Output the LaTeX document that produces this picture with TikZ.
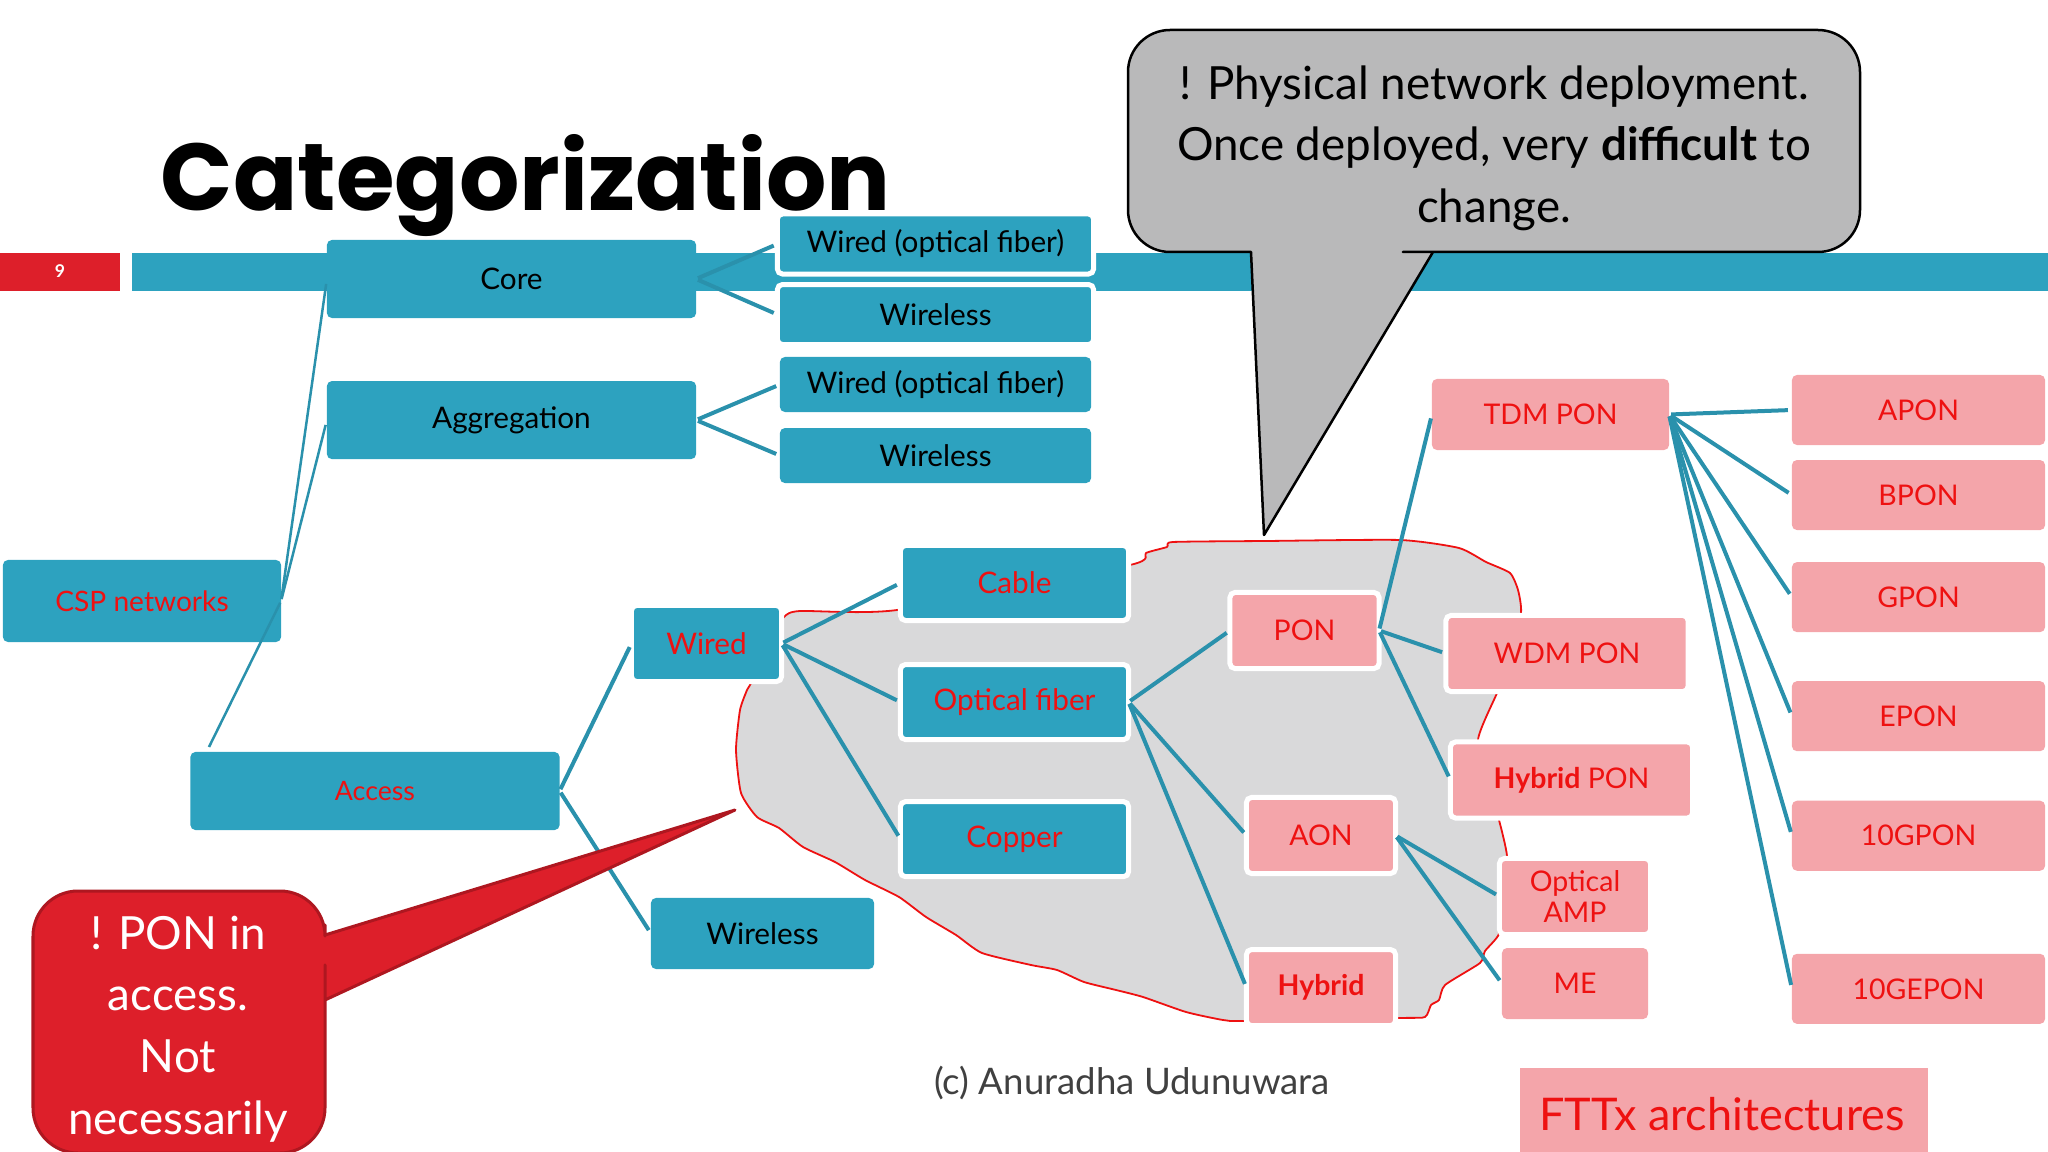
\documentclass[tikz,border=0pt]{standalone}
\usepackage{fontspec}
\setmainfont{Lato}
\newfontfamily\titlefont{Poppins}
\usetikzlibrary{positioning}

\definecolor{tealfill}{HTML}{2DA2BF}
\definecolor{tealline}{HTML}{2A91AC}
\definecolor{pinkfill}{HTML}{F4A5AA}
\definecolor{redtext}{HTML}{EE1111}
\definecolor{redfill}{HTML}{DD1F2A}
\definecolor{reddark}{HTML}{AE1720}
\definecolor{blobfill}{HTML}{D9D9DA}
\definecolor{notefill}{HTML}{B9B9BA}

\tikzset{
	box/.style={rounded corners=0.05cm, outer sep=0pt, inner sep=0pt, align=center},
	bluebox/.style={box, fill=tealfill, text=black, font=\fontsize{8.45}{8.8}\selectfont},
	redblue/.style={bluebox, text=redtext},
	pinkbox/.style={box, fill=pinkfill, text=redtext, font=\fontsize{8.1}{8.8}\selectfont},
	rim/.style={draw=white, line width=0.05cm},
	link/.style={draw=tealline, line width=0.04cm, shorten <=0.02cm, shorten >=0.04cm},
	thinlink/.style={link, line width=0.025cm, shorten >=0.05cm},
	notetext/.style={align=center, inner sep=0pt, font=\fontsize{13}{17.5}\selectfont},
	mainbox/.style={minimum width=3.69cm, minimum height=0.78cm},
	fiberbox/.style={minimum width=3.11cm, minimum height=0.55cm},
	fiberrim/.style={rim, minimum width=3.16cm, minimum height=0.60cm},
	mediumbox/.style={rim, minimum width=2.28cm, minimum height=0.75cm},
	nodebox/.style={rim, minimum width=1.49cm, minimum height=0.76cm},
	ponbox/.style={minimum width=2.37cm, minimum height=0.71cm},
	ponrim/.style={rim, minimum width=2.42cm, minimum height=0.76cm},
	ampbox/.style={minimum width=1.46cm, minimum height=0.71cm},
	amprim/.style={rim, minimum width=1.51cm, minimum height=0.76cm},
	fttxbox/.style={minimum width=2.53cm, minimum height=0.70cm},
}

\begin{document}
\begin{tikzpicture}[x=0.01cm, y=-0.01cm]
	\useasboundingbox (0,0) rectangle (2048,1152);

	% slide furniture
	\fill[redfill] (0,253) rectangle (120,291);
	\fill[tealfill] (132,253) rectangle (2048,291);
	\node[text=white, font=\fontsize{5}{5}\selectfont\bfseries] (pagenum) at (60,271) {9};

	% the red outline round the access part
	\draw[redtext, fill=blobfill, line width=0.018cm, line join=round] plot[smooth cycle, tension=0.35] coordinates {
		(784,617) (800,611) (897,610) (1130,565) (1146,553) (1167,547) (1173,542) (1266,541)
		(1400,540) (1459,548) (1486,562) (1510,573) (1518,590) (1521,613) (1510,660) (1497,693)
		(1478,740) (1490,790) (1499,820) (1507,856) (1505,900) (1499,934) (1485,951) (1480,963)
		(1445,985) (1439,1000) (1431,1005) (1425,1017) (1400,1018) (1245,1021) (1223,1020) (1186,1012)
		(1143,997) (1116,990) (1084,982) (1057,970) (1031,965) (982,953) (956,935) (926,917)
		(899,897) (865,880) (835,862) (803,847) (779,828) (757,817) (741,793) (736,750)
		(740,710) (747,690) (751,683) (770,640)};

	\node[redblue, mainbox, minimum width=2.78cm, minimum height=0.82cm, font=\fontsize{8}{8.8}\selectfont] (csp) at (142,601) {CSP networks};

	\node[bluebox, mainbox] (core) at (511.5,279) {Core};
	\node[bluebox, mainbox, below=0.63cm of core] (aggregation) {Aggregation};
	\node[redblue, mainbox, font=\fontsize{7.6}{8.8}\selectfont] (access) at (375,791) {Access};

	\node[bluebox, fiberrim] (corewired) at (935.5,244) {Wired (optical fiber)};
	\node[bluebox, fiberrim, below=0.105cm of corewired] (corewireless) {Wireless};
	\node[bluebox, fiberbox] (aggwired) at (935.5,384.5) {Wired (optical fiber)};
	\node[bluebox, fiberbox, below=0.16cm of aggwired] (aggwireless) {Wireless};

	\node[redblue, rim, minimum width=1.50cm, minimum height=0.76cm] (wired) at (706.5,643.5) {Wired};
	\node[bluebox, minimum width=2.23cm, minimum height=0.71cm] (accwireless) at (762.5,933.5) {Wireless};

	\node[redblue, mediumbox] (cable) at (1014.5,583) {Cable};
	\node[redblue, mediumbox, below=0.44cm of cable] (optical) {Optical fiber};
	\node[redblue, mediumbox, below=0.62cm of optical] (copper) {Copper};

	\node[pinkbox, nodebox] (pon) at (1304.5,630.5) {PON};
	\node[pinkbox, nodebox] (aon) at (1321,835.5) {AON};
	\node[pinkbox, nodebox, below=0.76cm of aon] (hybrid) {\textbf{Hybrid}};

	\node[pinkbox, ponbox] (tdm) at (1550.5,414.5) {TDM PON};
	\node[pinkbox, ponrim] (wdm) at (1567,653.5) {WDM PON};
	\node[pinkbox, ponrim] (hybridpon) at (1571.5,780) {\textbf{Hybrid} PON};
	\node[pinkbox, amprim] (amp) at (1575,896.5) {Optical\\AMP};
	\node[pinkbox, ampbox, below=0.135cm of amp] (me) {ME};

	\node[pinkbox, fttxbox] (apon) at (1918.5,410) {APON};
	\node[pinkbox, fttxbox, below=0.15cm of apon] (bpon) {BPON};
	\node[pinkbox, fttxbox, below=0.32cm of bpon] (gpon) {GPON};
	\node[pinkbox, fttxbox, below=0.49cm of gpon] (epon) {EPON};
	\node[pinkbox, fttxbox, below=0.495cm of epon] (tengpon) {10GPON};
	\node[pinkbox, fttxbox, below=0.83cm of tengpon] (tengepon) {10GEPON};

	\coordinate (accesstop) at (209,747);
	\draw[thinlink] (csp.east) -- (core.west);
	\draw[thinlink] (csp.east) -- (aggregation.west);
	\draw[thinlink, shorten >=0pt] (csp.east) -- (accesstop);

	\foreach \parent/\child in {core/corewired, core/corewireless, aggregation/aggwired, aggregation/aggwireless,
		access/wired, access/accwireless, wired/cable, wired/optical, wired/copper,
		optical/pon, optical/aon, optical/hybrid, pon/tdm, pon/wdm, pon/hybridpon, aon/amp, aon/me,
		tdm/apon, tdm/bpon, tdm/gpon, tdm/epon, tdm/tengpon, tdm/tengepon}
		\draw[link] (\parent.east) -- (\child.west);

	% callouts
	\draw[fill=notefill, draw=black, line width=0.025cm, line join=round]
		(1264,535) -- (1251,252) -- (1240,252) [rounded corners=0.42cm] -- (1128,252) -- (1128,30)
		-- (1860,30) -- (1860,252) -- (1445,252) [sharp corners] -- (1433,252) -- cycle;
	\node[notetext] (physnote) at (1494,148) {! Physical network deployment.\\Once deployed, very \textbf{difficult} to\\change.};

	\draw[fill=redfill, draw=reddark, line width=0.03cm, line join=round]
		(735,810) -- (325,935) -- (325,925) [rounded corners=0.45cm] -- (325,891) -- (33,891) -- (33,1153)
		-- (325,1153) -- (325,1010) [sharp corners] -- (325,1000) -- cycle;
	\node[notetext, text=white] (ponnote) at (178,1029) {! PON in\\access.\\Not\\necessarily};

	\node[pinkbox, minimum width=4.08cm, minimum height=0.84cm, rounded corners=0pt] (fttx) at (1724,1110) {};
	\node[text=redtext, inner sep=0pt, font=\fontsize{12.8}{14}\selectfont] (fttxlabel) at (1722,1114) {FTTx architectures};
	\node[text=black!75, inner sep=0pt, font=\fontsize{10.4}{12}\selectfont] (credit) at (1132,1083) {(c) Anuradha Udunuwara};

	\node[anchor=base west, inner sep=0pt, font=\titlefont\fontsize{27}{30}\selectfont\bfseries] (title) at (160,211) {Categorization};
\end{tikzpicture}
\end{document}
